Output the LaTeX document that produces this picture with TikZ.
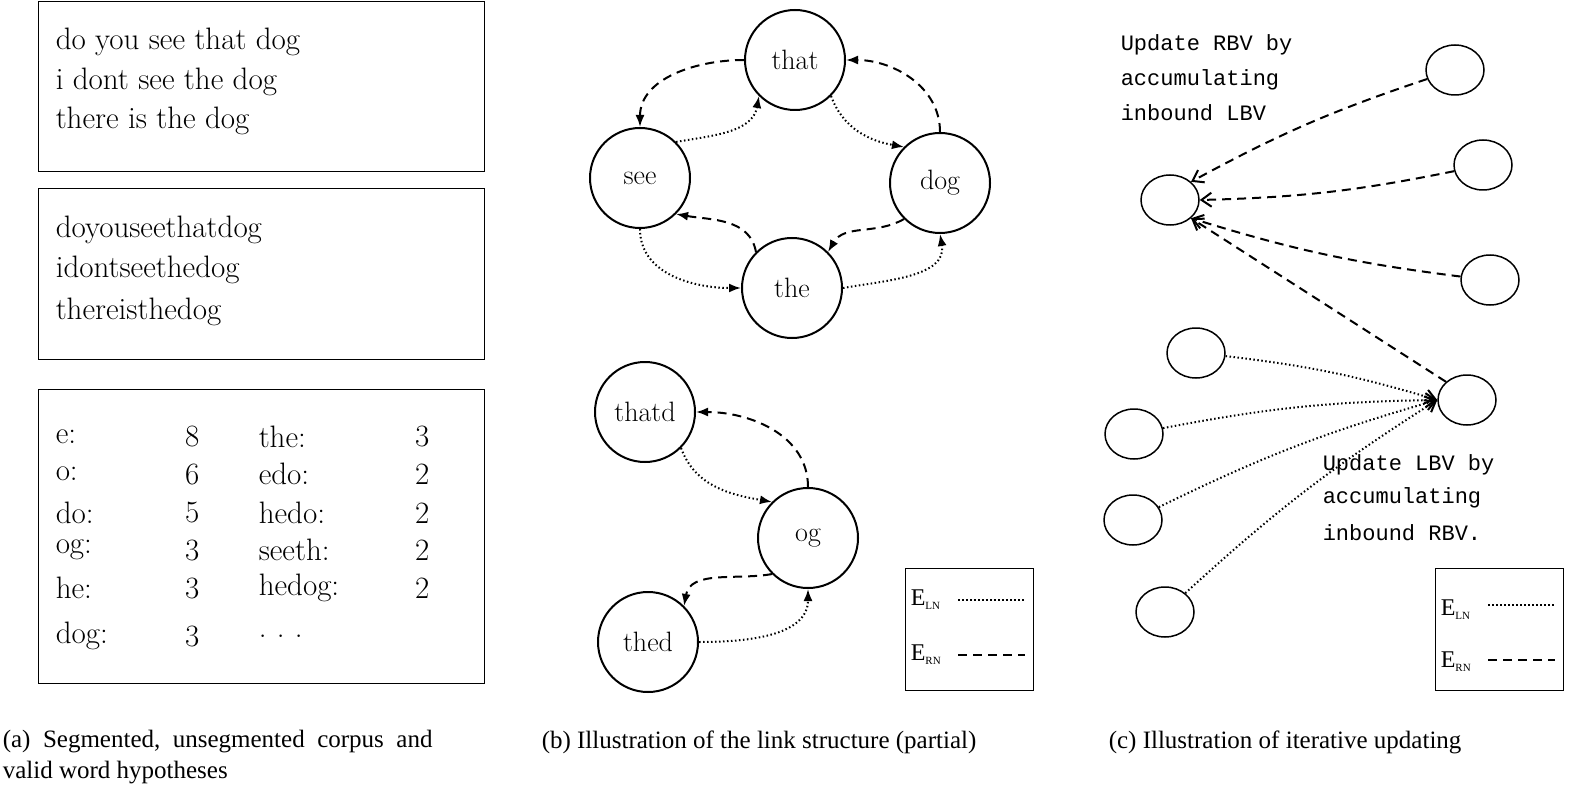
\documentclass[tikz,border=0pt]{standalone}
\usepackage{fontspec}
\setmainfont{Latin Modern Roman}
\newfontfamily\capf{Liberation Serif}
\newfontfamily\monof{Liberation Mono}
\usetikzlibrary{arrows.meta,shapes.geometric}
\begin{document}
\begin{tikzpicture}[x=1pt,y=-1pt,line width=1.5pt,
 box/.style={draw,line width=1pt},
 txt/.style={font=\fontsize{31}{36}\selectfont,anchor=west,inner sep=0},
 wn/.style={draw,circle,line width=2pt,minimum size=100pt,inner sep=0,font=\fontsize{28}{30}\selectfont},
 en/.style={draw,ellipse,line width=1.5pt,minimum width=58pt,minimum height=50pt,inner sep=0},
 dsh/.style={dash pattern=on 9pt off 6pt,line width=2pt},
 dot/.style={dash pattern=on 1.5pt off 2.5pt,line width=2pt},
 ft/.style={-{Latex[length=12pt,width=9pt]}},
 op/.style={-{Straight Barb[length=10pt,width=14pt]}},
 lab/.style={font=\monof\fontsize{22}{24}\selectfont,anchor=west,inner sep=0},
 captxt/.style={font=\capf\fontsize{25}{28}\selectfont,anchor=west,inner sep=0}]
\useasboundingbox (0,0) rectangle (1581,794);
% (a)
\draw[box] (38,2) rectangle (484,172);
\node[txt] (s1) at (55,42) {do you see that dog};
\node[txt] (s2) at (55,82) {i dont see the dog};
\node[txt] (s3) at (55,121) {there is the dog};
\draw[box] (38,189) rectangle (484,359);
\node[txt] (u1) at (55,230) {doyouseethatdog};
\node[txt] (u2) at (55,270) {idontseethedog};
\node[txt] (u3) at (55,312) {thereisthedog};
\draw[box] (38,389) rectangle (484,683);
\foreach \a/\b/\c/\d/\y [count=\i] in {e:/8/the:/3/437,o:/6/edo:/2/474,do:/5/hedo:/2/513,og:/3/seeth:/2/550,he:/3/hedog:/2/588}{
 \node[txt] (ta\i) at (55,\y) {\a};
 \node[txt,anchor=east] (tb\i) at (200,\y) {\b};
 \node[txt] (tc\i) at (258,\y) {\c};
 \node[txt,anchor=east] (td\i) at (430,\y) {\d};}
\node[txt] (ta6) at (55,636) {dog:};
\node[txt,anchor=east] (tb6) at (200,636) {3};
\node[txt] (tc6) at (258,636) {.\,\,.\,\,.};
% (b)
\node[wn] (that) at (795,60) {that};
\node[wn] (see) at (640,178) {see};
\node[wn] (dog) at (940,183) {dog};
\node[wn] (the) at (792,288) {the};
\node[wn] (thatd) at (645,412) {thatd};
\node[wn] (og) at (808,538) {og};
\node[wn] (thed) at (648,642) {thed};
\draw[dsh,ft] (that.west) to[out=180,in=90] (see.north);
\draw[dot,ft] (see.north east) to[out=10,in=-100] (that.south west);
\draw[dsh,ft] (dog.north) to[out=90,in=0] (that.east);
\draw[dot,ft] (that.south east) to[out=-70,in=170] (dog.north west);
\draw[dsh,ft] (dog.south west) to[out=-150,in=60] (the.north east);
\draw[dot,ft] (the.east) to[out=10,in=-80] (dog.south);
\draw[dsh,ft] (the.north west) to[out=100,in=-10] (see.south east);
\draw[dot,ft] (see.south) to[out=-90,in=180] (the.west);
\draw[dsh,ft] (og.north) to[out=90,in=0] (thatd.east);
\draw[dot,ft] (thatd.south east) to[out=-70,in=170] (og.north west);
\draw[dsh,ft] (og.south west) to[out=-170,in=80] (thed.north east);
\draw[dot,ft] (thed.east) to[out=0,in=-90] (og.south);
\draw[box] (905,568) rectangle (1033,690);
\node[txt,font=\capf\fontsize{24}{26}\selectfont] (l1) at (910,600) {E\textsubscript{\fontsize{11}{12}\selectfont LN}};
\coordinate (l1a) at (958,600); \coordinate (l1b) at (1025,600);
\draw[dot] (l1a) -- (l1b);
\node[txt,font=\capf\fontsize{24}{26}\selectfont] (l2) at (910,655) {E\textsubscript{\fontsize{11}{12}\selectfont RN}};
\coordinate (l2a) at (958,655); \coordinate (l2b) at (1025,655);
\draw[dsh] (l2a) -- (l2b);
% (c)
\node[en] (A) at (1170,200) {};
\node[en] (R1) at (1455,70) {};
\node[en] (R2) at (1483,165) {};
\node[en] (R3) at (1490,280) {};
\node[en] (C) at (1467,400) {};
\node[en] (L1) at (1196,353) {};
\node[en] (L2) at (1134,434) {};
\node[en] (L3) at (1133,520) {};
\node[en] (L4) at (1165,612) {};
\draw[dsh,op] (R1) to[bend right=5] (A.north east);
\draw[dsh,op] (R2) to[bend left=5] (A.east);
\draw[dsh,op] (R3) to[bend left=5] (A.south east);
\draw[dsh,op] (C.north west) to (A.south east);
\foreach \n in {L1,L2,L3,L4} \draw[dot,op] (\n) to[bend left=5] (C.west);
\node[lab] (t1) at (1120,45) {Update RBV by};
\node[lab] (t2) at (1120,80) {accumulating};
\node[lab] (t3) at (1120,113) {inbound LBV};
\node[lab] (t4) at (1322,465) {Update LBV by};
\node[lab] (t5) at (1322,498) {accumulating};
\node[lab] (t6) at (1322,533) {inbound RBV.};
\draw[box] (1435,568) rectangle (1563,690);
\node[txt,font=\capf\fontsize{24}{26}\selectfont] (m1) at (1440,610) {E\textsubscript{\fontsize{11}{12}\selectfont LN}};
\coordinate (m1a) at (1488,605); \coordinate (m1b) at (1555,605);
\draw[dot] (m1a) -- (m1b);
\node[txt,font=\capf\fontsize{24}{26}\selectfont] (m2) at (1440,662) {E\textsubscript{\fontsize{11}{12}\selectfont RN}};
\coordinate (m2a) at (1488,660); \coordinate (m2b) at (1555,660);
\draw[dsh] (m2a) -- (m2b);
% captions
\node[captxt] (ca) at (2,742) {(a)\ \ Segmented,\ \ unsegmented\ \ corpus\ \ and};
\node[captxt] (ca2) at (2,773) {valid word hypotheses};
\node[captxt] (cb) at (541,742) {(b) Illustration of the link structure (partial)};
\node[captxt] (cc) at (1108,742) {(c) Illustration of iterative updating};
\end{tikzpicture}
\end{document}
